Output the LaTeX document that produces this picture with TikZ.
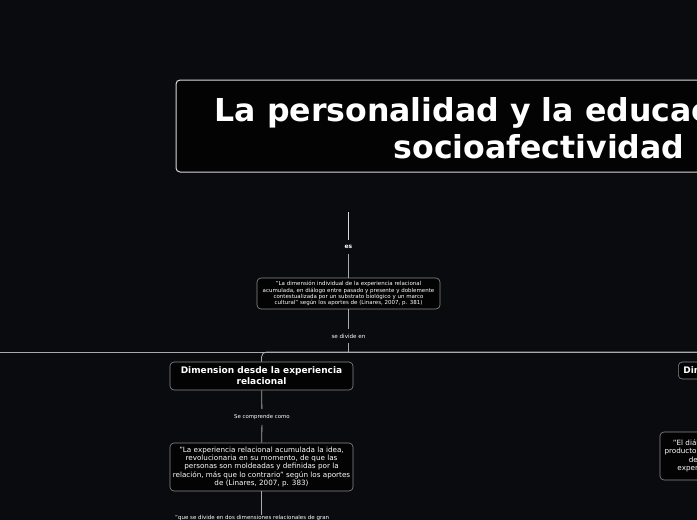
\documentclass[tikz,border=0pt]{standalone}
\usepackage{fontspec}
\setmainfont{DejaVu Sans}
\definecolor{bg}{RGB}{10,11,14}
\definecolor{boxfill}{RGB}{3,3,4}
\definecolor{lineg}{RGB}{170,170,170}
\definecolor{boxline}{RGB}{140,140,140}
\begin{document}
\begin{tikzpicture}[x=1pt,y=-1pt,
  topicbox/.style={draw=white!85!black,fill=boxfill,rounded corners=4pt,line width=1pt,
    align=center,text=white,inner sep=0pt},
  mainbox/.style={draw=boxline,fill=boxfill,rounded corners=4pt,line width=0.6pt,
    align=center,text=white,inner sep=0pt,minimum width=183pt},
  lbl/.style={text=white,inner sep=5pt,align=center},
  conn/.style={draw=lineg,line width=0.8pt}]
\fill[bg] (0,0) rectangle (697,520);
\useasboundingbox (0,0) rectangle (697,520);
\clip (0,0) rectangle (697,520);

% title
\node[topicbox,minimum width=724pt,minimum height=92pt] (title) at (538,126) {};
\node[text=white,align=center,inner sep=0pt,
  font=\bfseries\fontsize{31.6}{37}\selectfont] (titletext) at (539,127.5)
  {La personalidad y la educación en la\\socioafectividad};

\coordinate (t0) at (348.5,212);
\node[lbl,font=\bfseries\fontsize{6}{7}\selectfont] (es) at (348.5,247) {es};

\node[mainbox,minimum height=31pt,font=\fontsize{5.5}{6.2}\selectfont] (def) at (348.5,293.5)
  {"La dimensión individual de la experiencia relacional\\
   acumulada, en diálogo entre pasado y presente y doblemente\\
   contestualizada por un substrato biológico y un marco\\
   cultural" según los aportes de (Linares, 2007, p. 381)};

\node[lbl,font=\fontsize{5.6}{6.5}\selectfont] (div) at (348.5,336) {se divide en};
\coordinate (j) at (348.5,352);
\coordinate (farL) at (0,352);
\coordinate (farR) at (697,352);

\node[mainbox,minimum height=28pt,font=\bfseries\fontsize{9}{10.8}\selectfont] (dimA) at (261.5,376)
  {Dimension desde la experiencia\\relacional};

\node[lbl,font=\fontsize{5.4}{6.5}\selectfont] (comp) at (262,417) {Se comprende como};

\node[mainbox,minimum height=48pt,font=\fontsize{7.2}{8.4}\selectfont] (expA) at (261.5,467)
  {"La experiencia relacional acumulada la idea,\\
   revolucionaria en su momento, de que las\\
   personas son moldeadas y definidas por la\\
   relación, más que lo contrario" según los aportes\\
   de (Linares, 2007, p. 383)};

\node[text=white,inner sep=0pt,anchor=west,font=\fontsize{5.5}{6.5}\selectfont] (sub) at (175,518)
  {"que se divide en dos dimensiones relacionales de gran};

% right branch
\node[mainbox,minimum width=0pt,inner xsep=5pt,minimum height=17pt,anchor=west,
  font=\bfseries\fontsize{9}{10.8}\selectfont] (dimB) at (678,370.5)
  {Dimension desde el diálogo};
\node[mainbox,minimum height=48pt,font=\fontsize{7.2}{8.4}\selectfont] (expB) at (751.5,456)
  {"El diálogo entre el pasado y el presente es\\
   producto de la relación con los demás, un punto\\
   de vista en que la propia historia y\\
   experiencia se reconstruye en lo actual."};

% connectors
\draw[conn,draw=white!85!black] (t0) -- (es);
\draw[conn] (es) -- (def);
\draw[conn] (def) -- (div);
\draw[conn] (div) -- (j);
\draw[conn] (farL) -- (farR);
\draw[conn,rounded corners=5pt] (j) -| (dimA.north);
\draw[conn] (dimA) -- (comp);
\draw[conn] (comp) -- (expA);
\draw[conn] (expA.south) -- (sub.north -| expA.south);
\draw[conn,rounded corners=5pt] (j) -| (dimB.north -| expB.north);
\draw[conn] (dimB.south -| expB.north) -- (expB);
\end{tikzpicture}
\end{document}
